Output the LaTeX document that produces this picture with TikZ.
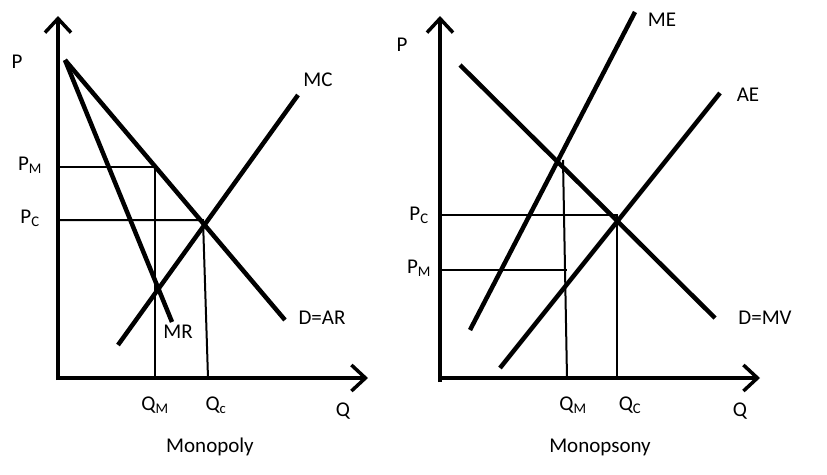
\documentclass[tikz,border=0pt]{standalone}
\usepackage{fontspec}
\setmainfont{Carlito}
\usetikzlibrary{arrows.meta}
\begin{document}
\begin{tikzpicture}[x=1pt,y=-1pt,
  ln/.style={line width=4.5pt},
  thin/.style={line width=2pt},
  ax/.style={line width=4.5pt,-{Straight Barb[length=14pt,width=26pt,line width=3.5pt]}},
  lab/.style={font=\fontsize{21}{24}\selectfont,inner sep=0pt}]
\useasboundingbox (0,0) rectangle (827,474);
% left
\coordinate (o1) at (58,378);
\coordinate (ytop1) at (58,16);
\coordinate (xend1) at (368,378);
\draw[ax] (58,380) -- (ytop1);
\draw[ax] (56,378) -- (xend1);
\coordinate (d1a) at (65,60); \coordinate (d1b) at (285,320);
\draw[ln] (d1a) -- (d1b);
\coordinate (mr1b) at (172,322);
\draw[ln] (d1a) -- (mr1b);
\coordinate (mc1a) at (118,345); \coordinate (mc1b) at (298,95);
\draw[ln] (mc1a) -- (mc1b);
\coordinate (pm1) at (58,167); \coordinate (pm1r) at (155,167); \coordinate (qm1) at (155,378);
\draw[thin] (pm1) -- (pm1r) -- (qm1);
\coordinate (pc1) at (58,220); \coordinate (pc1r) at (203,220); \coordinate (qc1) at (208,378);
\draw[thin] (pc1) -- (pc1r) -- (qc1);
\node[lab] (P1) at (17,62) {P};
\node[lab] (Q1) at (343,411) {Q};
\node[lab] (PM1) at (30,165) {P\textsubscript{M}};
\node[lab] (PC1) at (30,218) {P\textsubscript{C}};
\node[lab] (MC1) at (318,80) {MC};
\node[lab] (DAR) at (322,318) {D=AR};
\node[lab] (MR1) at (178,332) {MR};
\node[lab] (QM1) at (155,405) {Q\textsubscript{M}};
\node[lab] (QC1) at (216,405) {Q\textsubscript{c}};
\node[lab] (mono) at (210,447) {Monopoly};
% right
\draw[ax] (440,382) -- (440,16);
\draw[ax] (438,378) -- (760,378);
\coordinate (me1) at (470,330); \coordinate (me2) at (635,12);
\draw[ln] (me1) -- (me2);
\coordinate (ae1) at (500,368); \coordinate (ae2) at (720,93);
\draw[ln] (ae1) -- (ae2);
\coordinate (dm1) at (460,65); \coordinate (dm2) at (715,318);
\draw[ln] (dm1) -- (dm2);
\coordinate (pc2) at (440,215); \coordinate (pc2r) at (617,215); \coordinate (qc2) at (617,378);
\draw[thin] (pc2) -- (pc2r) -- (qc2);
\coordinate (pm2) at (440,270); \coordinate (pm2r) at (567,270);
\coordinate (pm2t) at (563,160); \coordinate (qm2) at (567,378);
\draw[thin] (pm2) -- (pm2r);
\draw[thin] (pm2t) -- (qm2);
\node[lab] (P2) at (402,45) {P};
\node[lab] (Q2) at (740,411) {Q};
\node[lab] (PC2) at (419,215) {P\textsubscript{C}};
\node[lab] (PM2) at (419,268) {P\textsubscript{M}};
\node[lab] (ME) at (662,20) {ME};
\node[lab] (AE) at (748,95) {AE};
\node[lab] (DMV) at (765,318) {D=MV};
\node[lab] (QM2) at (573,405) {Q\textsubscript{M}};
\node[lab] (QC2) at (630,405) {Q\textsubscript{C}};
\node[lab] (mps) at (600,447) {Monopsony};
\end{tikzpicture}
\end{document}
